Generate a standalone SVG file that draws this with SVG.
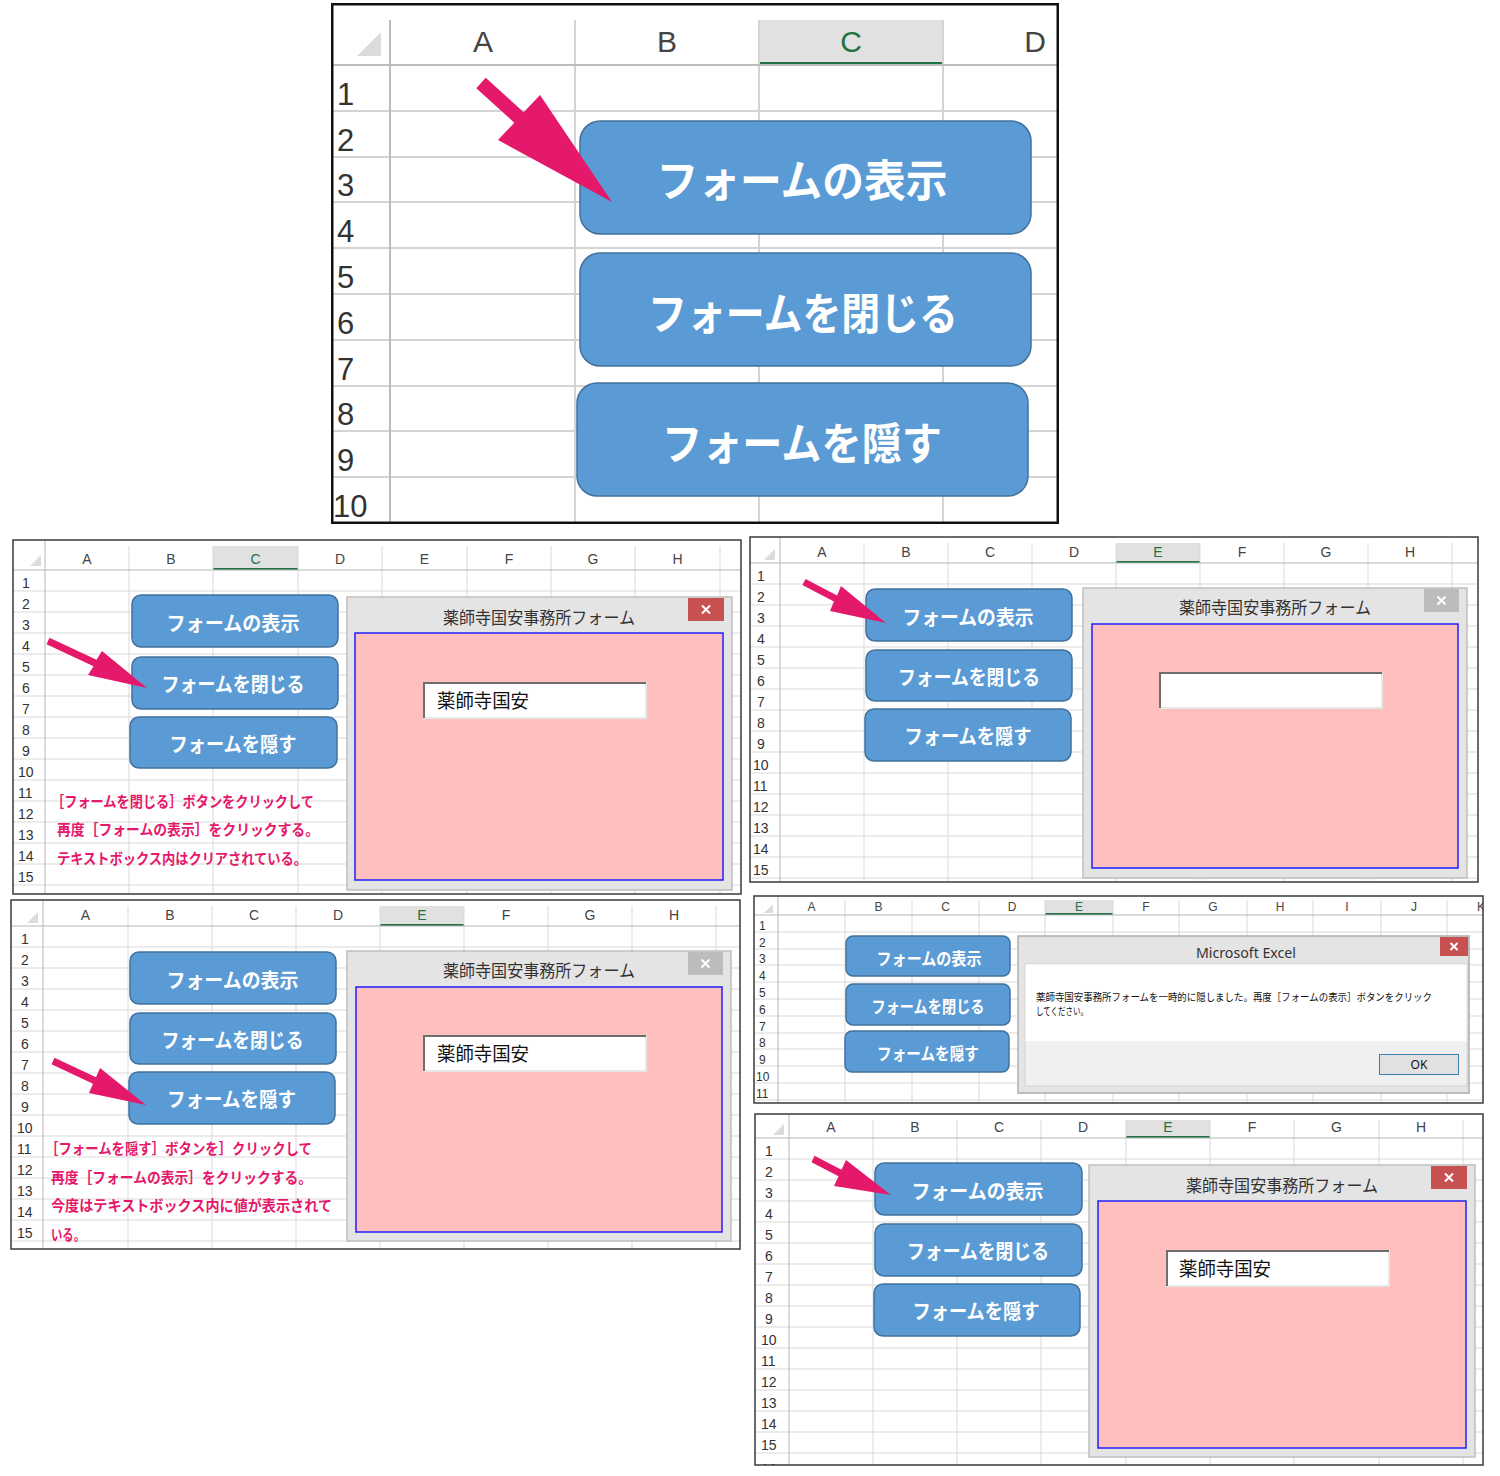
<svg xmlns="http://www.w3.org/2000/svg" width="1500" height="1476" viewBox="0 0 1500 1476">
<defs>
<style>
.bg{fill:#fff}
.frame{fill:none;stroke:#3a3a3a;stroke-width:1.5}
.grid{fill:none;stroke:#D9D9D9;stroke-width:1}
.gridd{fill:none;stroke:#B5B5B5;stroke-width:1}
.hl{fill:#E1E1E1}
.hlline{stroke:#217346;stroke-width:2}
.corner{fill:#DCDCDC}
.col{font-family:"Liberation Sans","Noto Sans",sans-serif;fill:#444;text-anchor:middle}
.colhl{fill:#217346}
.row{font-family:"Liberation Sans","Noto Sans",sans-serif;fill:#333}
.btn rect{fill:#5B9BD5;stroke:#41719C;stroke-width:1.5}
.btn text{fill:#fff;font-family:"Noto Sans CJK JP",sans-serif;font-weight:700;text-anchor:middle;dominant-baseline:central}
.arrow{fill:#E5196B}
.note{fill:#E5196B;font-family:"Noto Sans CJK JP",sans-serif;font-weight:700;font-size:15px;dominant-baseline:central}
.win{fill:#E4E4E4;stroke:#BEBEBE;stroke-width:1.5}
.title{font-family:"Noto Sans CJK JP",sans-serif;fill:#333;font-size:17px;text-anchor:middle;dominant-baseline:central}
.closeR{fill:#C75050}
.closeG{fill:#BCBCBC}
.x{stroke:#fff;stroke-width:2}
.pink{fill:#FFBFBF;stroke:#1F1FFF;stroke-width:1.5}
.tb{fill:#fff}
.tbd{fill:none;stroke:#6E6E6E;stroke-width:2}
.tbl{fill:none;stroke:#E6E6E6;stroke-width:2}
.tbt{font-family:"Noto Sans CJK JP",sans-serif;fill:#111;font-size:19px;dominant-baseline:central}
</style>
<clipPath id="c5"><rect x="754" y="896" width="729" height="207"/></clipPath>
<clipPath id="c6"><rect x="755" y="1114" width="728" height="351"/></clipPath>
</defs>

<!-- ============ Panel 1 (top) ============ -->
<g id="panel1">
<rect class="bg" x="331" y="3" width="728" height="521"/>
<rect class="hl" x="759" y="20" width="184" height="44"/>
<line x1="759" y1="63.5" x2="943" y2="63.5" stroke="#217346" stroke-width="3"/>
<polygon class="corner" points="357,56 381,56 381,32"/>
<path fill="none" stroke="#D4D4D4" stroke-width="2" d="M575 20V524 M759 20V524 M943 20V524 M331 111H1059 M331 157H1059 M331 202H1059 M331 248H1059 M331 294H1059 M331 340H1059 M331 386H1059 M331 431H1059 M331 477H1059"/>
<path fill="none" stroke="#BDBDBD" stroke-width="2" d="M390 20V524 M331 65H1059"/>
<g class="col" font-size="30">
<text x="483" y="52">A</text><text x="667" y="52">B</text><text x="851" y="52" class="colhl">C</text><text x="1035" y="52">D</text>
</g>
<g class="row" font-size="31">
<text x="337" y="105">1</text><text x="337" y="151">2</text><text x="337" y="196">3</text><text x="337" y="242">4</text><text x="337" y="288">5</text><text x="337" y="334">6</text><text x="337" y="380">7</text><text x="337" y="425">8</text><text x="337" y="471">9</text><text x="333" y="517">10</text>
</g>
<g id="p1-btn-show" class="btn"><rect x="580" y="121" width="451" height="113" rx="20"/><text x="802" y="178" font-size="44" textLength="291" lengthAdjust="spacingAndGlyphs">フォームの表示</text></g>
<g id="p1-btn-close" class="btn"><rect x="580" y="253" width="451" height="113" rx="20"/><text x="803" y="311" font-size="44" textLength="310" lengthAdjust="spacingAndGlyphs">フォームを閉じる</text></g>
<g id="p1-btn-hide" class="btn"><rect x="577" y="383" width="451" height="113" rx="20"/><text x="802" y="441" font-size="44" textLength="280" lengthAdjust="spacingAndGlyphs">フォームを隠す</text></g>
<rect x="332.25" y="4.25" width="725.5" height="518.5" fill="none" stroke="#111" stroke-width="2.5"/>
</g>

<!-- ============ Panel 2 ============ -->
<g id="panel2">
<rect class="bg" x="13" y="540" width="728" height="354"/>
<rect class="hl" x="213" y="546" width="85" height="24"/>
<line class="hlline" x1="213" y1="569" x2="298" y2="569"/>
<polygon class="corner" points="30,566 41,566 41,555"/>
<path class="grid" d="M129 546V894 M213 546V894 M298 546V894 M382 546V894 M467 546V894 M551 546V894 M635 546V894 M720 546V894 M13 591H741 M13 612H741 M13 633H741 M13 654H741 M13 675H741 M13 696H741 M13 717H741 M13 738H741 M13 759H741 M13 780H741 M13 801H741 M13 822H741 M13 843H741 M13 864H741 M13 885H741"/>
<path class="gridd" d="M45 540V894 M13 570H741"/>
<g class="col" font-size="14">
<text x="87" y="564">A</text><text x="171" y="564">B</text><text x="255.5" y="564" class="colhl">C</text><text x="340" y="564">D</text><text x="424.5" y="564">E</text><text x="509" y="564">F</text><text x="593" y="564">G</text><text x="677.5" y="564">H</text>
</g>
<g class="row" font-size="14">
<text x="22" y="588">1</text><text x="22" y="609">2</text><text x="22" y="630">3</text><text x="22" y="651">4</text><text x="22" y="672">5</text><text x="22" y="693">6</text><text x="22" y="714">7</text><text x="22" y="735">8</text><text x="22" y="756">9</text><text x="18" y="777">10</text><text x="18" y="798">11</text><text x="18" y="819">12</text><text x="18" y="840">13</text><text x="18" y="861">14</text><text x="18" y="882">15</text>
</g>
<g id="p2-btn-show" class="btn"><rect x="132" y="595" width="206" height="52" rx="9"/><text x="233" y="622" font-size="20" textLength="133" lengthAdjust="spacingAndGlyphs">フォームの表示</text></g>
<g id="p2-btn-close" class="btn"><rect x="132" y="657" width="206" height="52" rx="9"/><text x="233" y="683" font-size="20" textLength="143" lengthAdjust="spacingAndGlyphs">フォームを閉じる</text></g>
<g id="p2-btn-hide" class="btn"><rect x="130" y="717" width="207" height="51" rx="9"/><text x="233" y="743" font-size="20" textLength="127" lengthAdjust="spacingAndGlyphs">フォームを隠す</text></g>
<text class="note" x="51" y="800" textLength="263" lengthAdjust="spacingAndGlyphs">［フォームを閉じる］ボタンをクリックして</text>
<text class="note" x="57" y="828" textLength="262" lengthAdjust="spacingAndGlyphs">再度［フォームの表示］をクリックする。</text>
<text class="note" x="57" y="857" textLength="250" lengthAdjust="spacingAndGlyphs">テキストボックス内はクリアされている。</text>
<g id="p2-form">
<rect class="win" x="347" y="597" width="385" height="293"/>
<text class="title" x="539" y="616" textLength="192" lengthAdjust="spacingAndGlyphs">薬師寺国安事務所フォーム</text>
<rect class="closeR" x="688" y="598" width="36" height="23"/>
<path class="x" d="M702 605.5L710 613.5M710 605.5L702 613.5"/>
<rect class="pink" x="355" y="633" width="368" height="247"/>
<rect class="tb" x="423" y="682" width="223" height="36"/>
<path class="tbl" d="M646 682V718H423"/>
<path class="tbd" d="M424 718V683H646"/>
<text class="tbt" x="437" y="699" textLength="92" lengthAdjust="spacingAndGlyphs">薬師寺国安</text>
</g>
<rect class="frame" x="13" y="540" width="728" height="354"/>
</g>

<!-- ============ Panel 3 ============ -->
<g id="panel3">
<rect class="bg" x="750" y="537" width="728" height="345"/>
<rect class="hl" x="1116" y="543" width="84" height="20"/>
<line class="hlline" x1="1116" y1="562" x2="1200" y2="562"/>
<polygon class="corner" points="764,560 775,560 775,549"/>
<path class="grid" d="M864 543V882 M948 543V882 M1032 543V882 M1116 543V882 M1200 543V882 M1284 543V882 M1368 543V882 M1452 543V882 M750 584H1478 M750 605H1478 M750 626H1478 M750 647H1478 M750 668H1478 M750 689H1478 M750 710H1478 M750 731H1478 M750 752H1478 M750 773H1478 M750 794H1478 M750 815H1478 M750 836H1478 M750 857H1478 M750 878H1478"/>
<path class="gridd" d="M780 537V882 M750 563H1478"/>
<g class="col" font-size="14">
<text x="822" y="557">A</text><text x="906" y="557">B</text><text x="990" y="557">C</text><text x="1074" y="557">D</text><text x="1158" y="557" class="colhl">E</text><text x="1242" y="557">F</text><text x="1326" y="557">G</text><text x="1410" y="557">H</text>
</g>
<g class="row" font-size="14">
<text x="757" y="581">1</text><text x="757" y="602">2</text><text x="757" y="623">3</text><text x="757" y="644">4</text><text x="757" y="665">5</text><text x="757" y="686">6</text><text x="757" y="707">7</text><text x="757" y="728">8</text><text x="757" y="749">9</text><text x="753" y="770">10</text><text x="753" y="791">11</text><text x="753" y="812">12</text><text x="753" y="833">13</text><text x="753" y="854">14</text><text x="753" y="875">15</text>
</g>
<g id="p3-btn-show" class="btn"><rect x="866" y="589" width="206" height="52" rx="9"/><text x="968" y="616" font-size="20" textLength="131" lengthAdjust="spacingAndGlyphs">フォームの表示</text></g>
<g id="p3-btn-close" class="btn"><rect x="866" y="650" width="206" height="51" rx="9"/><text x="969" y="676" font-size="20" textLength="142" lengthAdjust="spacingAndGlyphs">フォームを閉じる</text></g>
<g id="p3-btn-hide" class="btn"><rect x="865" y="709" width="206" height="52" rx="9"/><text x="968" y="735" font-size="20" textLength="127" lengthAdjust="spacingAndGlyphs">フォームを隠す</text></g>
<g id="p3-form">
<rect class="win" x="1083" y="588" width="384" height="290"/>
<text class="title" x="1275" y="606" textLength="192" lengthAdjust="spacingAndGlyphs">薬師寺国安事務所フォーム</text>
<rect class="closeG" x="1424" y="589" width="35" height="23"/>
<path class="x" d="M1437.5 596.5L1445.5 604.5M1445.5 596.5L1437.5 604.5"/>
<rect class="pink" x="1092" y="624" width="366" height="244"/>
<rect class="tb" x="1159" y="672" width="223" height="36"/>
<path class="tbl" d="M1382 672V708H1159"/>
<path class="tbd" d="M1160 708V673H1382"/>
</g>
<rect class="frame" x="750" y="537" width="728" height="345"/>
</g>

<!-- ============ Panel 4 ============ -->
<g id="panel4">
<rect class="bg" x="11" y="900" width="729" height="349"/>
<rect class="hl" x="380" y="906" width="84" height="20"/>
<line class="hlline" x1="380" y1="925" x2="464" y2="925"/>
<polygon class="corner" points="27,923 38,923 38,912"/>
<path class="grid" d="M128 906V1249 M212 906V1249 M296 906V1249 M380 906V1249 M464 906V1249 M548 906V1249 M632 906V1249 M716 906V1249 M11 947H740 M11 968H740 M11 989H740 M11 1010H740 M11 1031H740 M11 1052H740 M11 1073H740 M11 1094H740 M11 1115H740 M11 1136H740 M11 1157H740 M11 1178H740 M11 1199H740 M11 1220H740 M11 1241H740"/>
<path class="gridd" d="M43 900V1249 M11 926H740"/>
<g class="col" font-size="14">
<text x="85.5" y="920">A</text><text x="170" y="920">B</text><text x="254" y="920">C</text><text x="338" y="920">D</text><text x="422" y="920" class="colhl">E</text><text x="506" y="920">F</text><text x="590" y="920">G</text><text x="674" y="920">H</text>
</g>
<g class="row" font-size="14">
<text x="21" y="944">1</text><text x="21" y="965">2</text><text x="21" y="986">3</text><text x="21" y="1007">4</text><text x="21" y="1028">5</text><text x="21" y="1049">6</text><text x="21" y="1070">7</text><text x="21" y="1091">8</text><text x="21" y="1112">9</text><text x="17" y="1133">10</text><text x="17" y="1154">11</text><text x="17" y="1175">12</text><text x="17" y="1196">13</text><text x="17" y="1217">14</text><text x="17" y="1238">15</text>
</g>
<g id="p4-btn-show" class="btn"><rect x="130" y="952" width="206" height="52" rx="9"/><text x="232.5" y="979" font-size="20" textLength="132" lengthAdjust="spacingAndGlyphs">フォームの表示</text></g>
<g id="p4-btn-close" class="btn"><rect x="130" y="1013" width="206" height="51" rx="9"/><text x="232.5" y="1039" font-size="20" textLength="142" lengthAdjust="spacingAndGlyphs">フォームを閉じる</text></g>
<g id="p4-btn-hide" class="btn"><rect x="129" y="1072" width="206" height="52" rx="9"/><text x="231.5" y="1098" font-size="20" textLength="129" lengthAdjust="spacingAndGlyphs">フォームを隠す</text></g>
<text class="note" x="45" y="1147" textLength="267" lengthAdjust="spacingAndGlyphs">［フォームを隠す］ボタンを］クリックして</text>
<text class="note" x="51" y="1176" textLength="261" lengthAdjust="spacingAndGlyphs">再度［フォームの表示］をクリックする。</text>
<text class="note" x="51" y="1204" textLength="281" lengthAdjust="spacingAndGlyphs">今度はテキストボックス内に値が表示されて</text>
<text class="note" x="51" y="1233" textLength="34" lengthAdjust="spacingAndGlyphs">いる。</text>
<g id="p4-form">
<rect class="win" x="347" y="951" width="384" height="290"/>
<text class="title" x="539" y="969" textLength="192" lengthAdjust="spacingAndGlyphs">薬師寺国安事務所フォーム</text>
<rect class="closeG" x="688" y="952" width="35" height="23"/>
<path class="x" d="M701.5 959.5L709.5 967.5M709.5 959.5L701.5 967.5"/>
<rect class="pink" x="356" y="987" width="366" height="245"/>
<rect class="tb" x="423" y="1035" width="223" height="36"/>
<path class="tbl" d="M646 1035V1071H423"/>
<path class="tbd" d="M424 1071V1036H646"/>
<text class="tbt" x="437" y="1052" textLength="92" lengthAdjust="spacingAndGlyphs">薬師寺国安</text>
</g>
<rect class="frame" x="11" y="900" width="729" height="349"/>
</g>

<!-- ============ Panel 5 (message box) ============ -->
<g id="panel5">
<rect class="bg" x="754" y="896" width="729" height="207"/>
<rect class="hl" x="1045" y="900" width="68" height="15"/>
<line class="hlline" x1="1045" y1="914" x2="1113" y2="914"/>
<polygon class="corner" points="764,913 773,913 773,904"/>
<path class="grid" d="M845 900V1103 M912 900V1103 M979 900V1103 M1045 900V1103 M1113 900V1103 M1179 900V1103 M1247 900V1103 M1313 900V1103 M1381 900V1103 M1447 900V1103 M754 932H1483 M754 949H1483 M754 965H1483 M754 982H1483 M754 999H1483 M754 1016H1483 M754 1033H1483 M754 1049H1483 M754 1066H1483 M754 1083H1483 M754 1100H1483"/>
<path class="gridd" d="M778 896V1103 M754 915H1483"/>
<g class="col" font-size="12" clip-path="url(#c5)">
<text x="811.5" y="911">A</text><text x="878.5" y="911">B</text><text x="945.5" y="911">C</text><text x="1012" y="911">D</text><text x="1079" y="911" class="colhl">E</text><text x="1146" y="911">F</text><text x="1213" y="911">G</text><text x="1280" y="911">H</text><text x="1347" y="911">I</text><text x="1414" y="911">J</text><text x="1481" y="911">K</text>
</g>
<g class="row" font-size="12">
<text x="759" y="930">1</text><text x="759" y="947">2</text><text x="759" y="963">3</text><text x="759" y="980">4</text><text x="759" y="997">5</text><text x="759" y="1014">6</text><text x="759" y="1031">7</text><text x="759" y="1047">8</text><text x="759" y="1064">9</text><text x="756" y="1081">10</text><text x="756" y="1098">11</text>
</g>
<g id="p5-btn-show" class="btn"><rect x="846" y="936" width="164" height="40" rx="7"/><text x="929" y="957" font-size="17" textLength="105" lengthAdjust="spacingAndGlyphs">フォームの表示</text></g>
<g id="p5-btn-close" class="btn"><rect x="846" y="984" width="164" height="41" rx="7"/><text x="928" y="1005" font-size="17" textLength="113" lengthAdjust="spacingAndGlyphs">フォームを閉じる</text></g>
<g id="p5-btn-hide" class="btn"><rect x="845" y="1031" width="164" height="41" rx="7"/><text x="928" y="1052" font-size="17" textLength="102" lengthAdjust="spacingAndGlyphs">フォームを隠す</text></g>
<g id="p5-msgbox">
<rect x="1018" y="936" width="451" height="157" fill="#E4E4E4" stroke="#ADADAD" stroke-width="1.5"/>
<text x="1246" y="952" font-family="'Noto Sans','Open Sans',sans-serif" font-size="15" fill="#333" text-anchor="middle" dominant-baseline="central" textLength="100" lengthAdjust="spacingAndGlyphs">Microsoft Excel</text>
<rect class="closeR" x="1440" y="937" width="28" height="19"/>
<path class="x" stroke-width="1.6" d="M1450.5 943L1457.5 950M1457.5 943L1450.5 950"/>
<rect x="1025" y="964" width="442" height="122" fill="#F0F0F0" stroke="#D2D2D2" stroke-width="1"/>
<rect x="1025.5" y="964.5" width="441" height="76.5" fill="#fff"/>
<text x="1036" y="996" font-family="'Noto Sans CJK JP',sans-serif" font-size="10.5" fill="#111" dominant-baseline="central" textLength="396" lengthAdjust="spacingAndGlyphs">薬師寺国安事務所フォームを一時的に隠しました。再度［フォームの表示］ボタンをクリック</text>
<text x="1036" y="1010" font-family="'Noto Sans CJK JP',sans-serif" font-size="10.5" fill="#111" dominant-baseline="central" textLength="52" lengthAdjust="spacingAndGlyphs">してください。</text>
<rect x="1379.5" y="1054.5" width="79" height="20" fill="#E1E1E1" stroke="#3C7FB1" stroke-width="1"/>
<text x="1419" y="1064.5" font-family="'Noto Sans','Open Sans',sans-serif" font-size="12" fill="#111" text-anchor="middle" dominant-baseline="central">OK</text>
</g>
<rect class="frame" x="754" y="896" width="729" height="207"/>
</g>

<!-- ============ Panel 6 ============ -->
<g id="panel6">
<rect class="bg" x="755" y="1114" width="728" height="351"/>
<rect class="hl" x="1126" y="1120" width="84" height="18"/>
<line class="hlline" x1="1126" y1="1137" x2="1210" y2="1137"/>
<polygon class="corner" points="773,1135 784,1135 784,1124"/>
<path class="grid" d="M873 1120V1465 M957 1120V1465 M1041 1120V1465 M1126 1120V1465 M1210 1120V1465 M1294 1120V1465 M1379 1120V1465 M1463 1120V1465 M755 1159H1483 M755 1180H1483 M755 1201H1483 M755 1222H1483 M755 1243H1483 M755 1264H1483 M755 1285H1483 M755 1306H1483 M755 1327H1483 M755 1348H1483 M755 1369H1483 M755 1390H1483 M755 1411H1483 M755 1432H1483 M755 1453H1483"/>
<path class="gridd" d="M789 1114V1465 M755 1138H1483"/>
<g class="col" font-size="14">
<text x="831" y="1132">A</text><text x="915" y="1132">B</text><text x="999" y="1132">C</text><text x="1083" y="1132">D</text><text x="1168" y="1132" class="colhl">E</text><text x="1252" y="1132">F</text><text x="1336.5" y="1132">G</text><text x="1421" y="1132">H</text>
</g>
<g class="row" font-size="14" clip-path="url(#c6)">
<text x="765" y="1156">1</text><text x="765" y="1177">2</text><text x="765" y="1198">3</text><text x="765" y="1219">4</text><text x="765" y="1240">5</text><text x="765" y="1261">6</text><text x="765" y="1282">7</text><text x="765" y="1303">8</text><text x="765" y="1324">9</text><text x="761" y="1345">10</text><text x="761" y="1366">11</text><text x="761" y="1387">12</text><text x="761" y="1408">13</text><text x="761" y="1429">14</text><text x="761" y="1450">15</text><text x="761" y="1474">16</text>
</g>
<g id="p6-btn-show" class="btn"><rect x="875" y="1163" width="207" height="52" rx="9"/><text x="977.5" y="1190" font-size="20" textLength="132" lengthAdjust="spacingAndGlyphs">フォームの表示</text></g>
<g id="p6-btn-close" class="btn"><rect x="875" y="1224" width="207" height="52" rx="9"/><text x="978" y="1250" font-size="20" textLength="142" lengthAdjust="spacingAndGlyphs">フォームを閉じる</text></g>
<g id="p6-btn-hide" class="btn"><rect x="874" y="1284" width="206" height="52" rx="9"/><text x="976" y="1310" font-size="20" textLength="127" lengthAdjust="spacingAndGlyphs">フォームを隠す</text></g>
<g id="p6-form">
<rect class="win" x="1089" y="1165" width="386" height="292"/>
<text class="title" x="1282" y="1184" textLength="192" lengthAdjust="spacingAndGlyphs">薬師寺国安事務所フォーム</text>
<rect class="closeR" x="1431" y="1166" width="36" height="23"/>
<path class="x" d="M1445 1173.5L1453 1181.5M1453 1173.5L1445 1181.5"/>
<rect class="pink" x="1098" y="1201" width="368" height="247"/>
<rect class="tb" x="1166" y="1250" width="223" height="36"/>
<path class="tbl" d="M1389 1250V1286H1166"/>
<path class="tbd" d="M1167 1286V1251H1389"/>
<text class="tbt" x="1179" y="1267" textLength="92" lengthAdjust="spacingAndGlyphs">薬師寺国安</text>
</g>
<rect class="frame" x="755" y="1114" width="728" height="351"/>
</g>

<!-- ============ Arrows ============ -->
<g id="connectors">
<polygon class="arrow" points="485.7,77.8 523.7,112.3 540,95 612,202 498,140 514.3,122.7 476.3,88.2"/>
<polygon class="arrow" points="49.5,637.8 96.5,659.8 102,651 147,688 88,675 93.5,666.2 46.5,644.2"/>
<polygon class="arrow" points="805.6,578.9 837.1,595.4 841,586 886,623 830,611 833.9,601.6 802.4,585.1"/>
<polygon class="arrow" points="54.5,1057.8 96,1077.3 100,1068 146,1105 89,1093 93,1083.7 51.5,1064.2"/>
<polygon class="arrow" points="814.5,1155.8 841.5,1169.8 846,1160 891,1195 834,1186 838.5,1176.2 811.5,1162.2"/>
</g>
</svg>
